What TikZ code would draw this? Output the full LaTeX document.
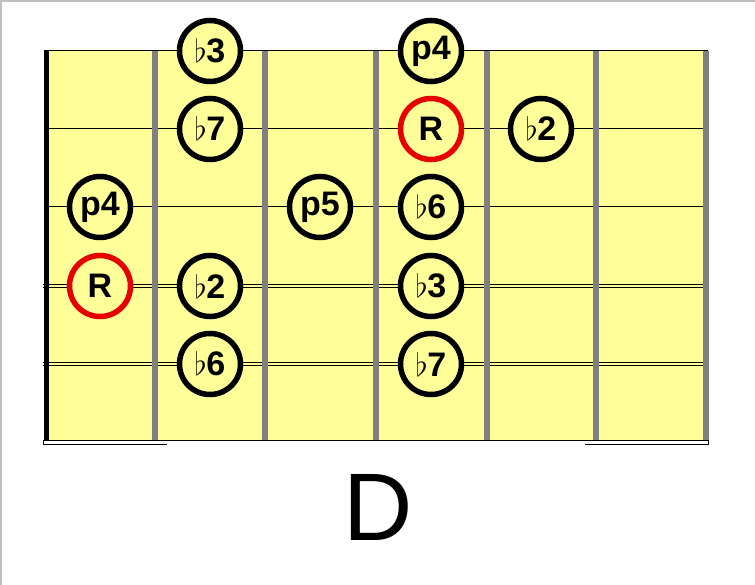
\documentclass[tikz,border=0pt]{standalone}
\usepackage{fontspec}
\usepackage{graphicx}
\setmainfont{Liberation Sans}
\newcommand{\fl}{\resizebox{!}{24pt}{$\flat$}\kern-0.5pt}
\begin{document}
\begin{tikzpicture}[x=1pt,y=-1pt,
  note/.style={circle,draw=black,line width=5.5pt,fill=fretyellow,minimum size=61pt,inner sep=0pt,
    font=\fontsize{34}{34}\selectfont\bfseries},
  root/.style={note,draw=rootred},
  fret/.style={draw=fretgray,line width=5.5pt},
  string/.style={draw=black,line width=1pt},
  thick string/.style={draw=black,line width=1pt,double=fretyellow,double distance=2.2pt}]
\definecolor{fretyellow}{RGB}{255,255,153}
\definecolor{fretgray}{RGB}{128,128,128}
\definecolor{rootred}{RGB}{230,0,0}
\definecolor{bordergray}{RGB}{192,192,192}
\useasboundingbox (0,0) rectangle (755,585);
\fill[white] (0,0) rectangle (755,585);
\draw[bordergray,line width=2pt] (1,585) -- (1,1) -- (755,1);
% board
\fill[fretyellow] (44,51) rectangle (708,440);
% strings
\draw[string] (44,51) -- (708,51);
\draw[string] (44,129) -- (708,129);
\draw[string] (44,207) -- (708,207);
\draw[thick string] (43,286) -- (708,286);
\draw[thick string] (43,364) -- (708,364);
\draw[string] (43,440) -- (708,440);
\draw[string] (167,444) -- (43,444) -- (43,440);
\draw[string] (585,444) -- (708,444) -- (708,440);
% frets
\foreach \x in {155,265,376,487,596,706} \draw[fret] (\x,51) -- (\x,440);
% nut
\fill[black] (44,51) rectangle (49,440);
% notes
\node[note] (s1a) at (210,51) {\fl3};
\node[note] (s1b) at (431,51) {p4};
\node[note] (s2a) at (210,129) {\fl7};
\node[root] (s2b) at (431,129) {R};
\node[note] (s2c) at (541,129) {\fl2};
\node[note] (s3a) at (100,207) {p4};
\node[note] (s3b) at (320,207) {p5};
\node[note] (s3c) at (431,207) {\fl6};
\node[root] (s4a) at (100,286) {R};
\node[note] (s4b) at (210,286) {\fl2};
\node[note] (s4c) at (431,286) {\fl3};
\node[note] (s5a) at (210,364) {\fl6};
\node[note] (s5b) at (431,364) {\fl7};
\node[font=\fontsize{96}{96}\selectfont] (key) at (378,507) {D};
\end{tikzpicture}
\end{document}
